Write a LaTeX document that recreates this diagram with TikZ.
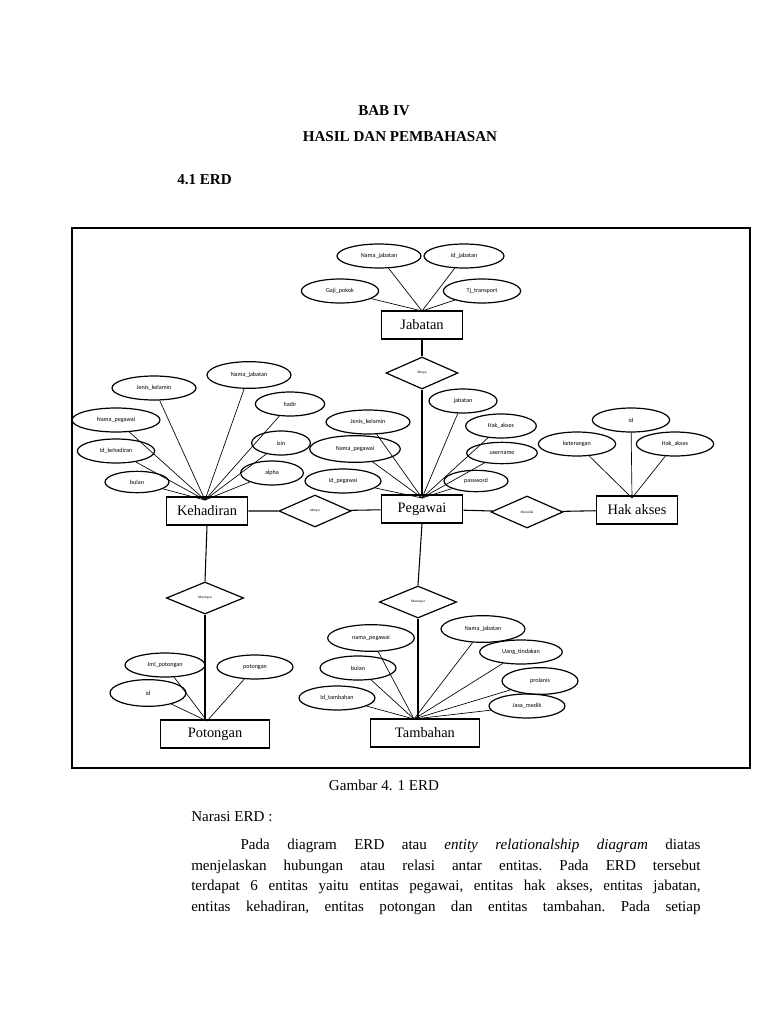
\documentclass[tikz,border=0pt]{standalone}
\usepackage{fontspec}
\setmainfont{Liberation Serif}
\newfontfamily\attrfont{Carlito}
\usetikzlibrary{shapes.geometric}
\begin{document}
\begin{tikzpicture}[x=0.75pt,y=-0.75pt,
  ent/.style={draw,line width=1pt,minimum width=#1,minimum height=21pt,inner sep=0pt,font=\fontsize{10.8}{12}\selectfont},
  ent/.default=61pt,
  rel/.style={draw,line width=0.9pt,diamond,minimum width=54pt,minimum height=24pt,inner sep=0pt,font=\fontsize{2.6}{3}\selectfont},
  attr/.style={draw,line width=0.9pt,ellipse,inner sep=0pt,minimum height=18pt,minimum width=#1,font=\attrfont\fontsize{4.6}{5}\selectfont},
  attr/.default=58pt,
  cn/.style={line width=0.5pt},
  rl/.style={line width=0.8pt}]
\useasboundingbox (0,0) rectangle (768,1024);
\fill[white] (0,0) rectangle (768,1024);
\node[font=\bfseries\fontsize{11.3}{13}\selectfont] (t1) at (384,111) {BAB IV};
\node[font=\bfseries\fontsize{11.3}{13}\selectfont] (t2) at (400,137) {HASIL DAN PEMBAHASAN};
\node[font=\bfseries\fontsize{11.3}{13}\selectfont,anchor=west,inner sep=0pt] (t3) at (177,180) {4.1 ERD};
\draw[line width=0.8pt] (72,228) rectangle (750,768);
% entities
\node[ent] (jab) at (422,325) {Jabatan};
\node[ent] (keh) at (207,511) {Kehadiran};
\node[ent] (peg) at (422,509) {Pegawai};
\node[ent] (hak) at (637,510) {Hak akses};
\node[ent=82pt] (pot) at (215,734) {Potongan};
\node[ent=82pt] (tam) at (425,733) {Tambahan};
% relations
\node[rel] (r1) at (422,373) {Mmpu};
\node[rel] (r2) at (315,511) {Mmpu};
\node[rel] (r3) at (527,512) {Memiliki};
\node[rel,minimum width=58pt] (r4) at (205,598) {Mendapat};
\node[rel,minimum width=58pt] (r5) at (418,602) {Mendapat};
\draw[rl] (jab) -- (r1) -- (peg);
\draw[rl] (keh) -- (r2) -- (peg);
\draw[rl] (peg) -- (r3) -- (hak);
\draw[rl] (keh.south) -- (r4.north);
\draw[rl] (r4.south) -- (r4.south |- pot.north);
\draw[rl] (peg.south) -- (r5.north);
\draw[rl] (r5.south) -- (r5.south |- tam.north);
% fan points
\coordinate (fj) at (422,311);
\coordinate (fk) at (205,500);
\coordinate (fp) at (422,498);
\coordinate (fh) at (632,498);
\coordinate (fo) at (207,721);
\coordinate (ft) at (414,719);
% Jabatan attributes
\node[attr=63pt] (a1) at (379,256) {Nama\_jabatan};
\node[attr=60pt] (a2) at (464,256) {Id\_jabatan};
\node[attr] (a3) at (340,291) {Gaji\_pokok};
\node[attr] (a4) at (482,291) {Tj\_transport};
\foreach \a in {a1,a2,a3,a4} \draw[cn] (\a) -- (fj);
% Kehadiran attributes
\node[attr=63pt,minimum height=20pt] (b1) at (249,375) {Nama\_jabatan};
\node[attr=63pt] (b2) at (154,388) {Jenis\_kelamin};
\node[attr=66pt] (b3) at (116,420) {Nama\_pegawai};
\node[attr=52pt] (b4) at (290,404) {hadir};
\node[attr] (b5) at (116,451) {Id\_kehadiran};
\node[attr=44pt] (b6) at (281,443) {izin};
\node[attr=48pt,minimum height=16pt] (b7) at (137,482) {bulan};
\node[attr=47pt] (b8) at (272,473) {alpha};
\foreach \a in {b1,b2,b3,b4,b5,b6,b7,b8} \draw[cn] (\a) -- (fk);
% Pegawai attributes
\node[attr=63pt] (c1) at (368,422) {Jenis\_kelamin};
\node[attr=68pt,minimum height=20pt] (c2) at (355,449) {Nama\_pegawai};
\node[attr=57pt] (c3) at (343,481) {Id\_pegawai};
\node[attr=51pt] (c4) at (463,401) {jabatan};
\node[attr=53pt] (c5) at (501,426) {Hak\_akses};
\node[attr=53pt,minimum height=16pt] (c6) at (502,453) {username};
\node[attr=48pt,minimum height=16pt] (c7) at (476,481) {password};
\foreach \a in {c1,c2,c3,c4,c5,c6,c7} \draw[cn] (\a) -- (fp);
% Hak akses attributes
\node[attr] (d1) at (631,420) {id};
\node[attr] (d2) at (577,444) {keterangan};
\node[attr] (d3) at (675,444) {Hak\_akses};
\foreach \a in {d1,d2,d3} \draw[cn] (\a) -- (fh);
% Potongan attributes
\node[attr=60pt] (e1) at (165,665) {Jml\_potongan};
\node[attr=57pt] (e2) at (255,667) {potongan};
\node[attr=57pt,minimum height=20pt] (e3) at (148,693) {id};
\foreach \a in {e1,e2,e3} \draw[cn] (\a) -- (fo);
% Tambahan attributes
\node[attr=65pt,minimum height=20pt] (f1) at (371,638) {nama\_pegawai};
\node[attr=63pt,minimum height=20pt] (f2) at (483,629) {Nama\_jabatan};
\node[attr=62pt] (f3) at (521,652) {Uang\_tindakan};
\node[attr=57pt] (f4) at (358,668) {bulan};
\node[attr=57pt,minimum height=20pt] (f5) at (540,681) {prolanis};
\node[attr=57pt] (f6) at (337,698) {Id\_tambahan};
\node[attr=57pt] (f7) at (527,706) {Jasa\_medik};
\foreach \a in {f1,f2,f3,f4,f5,f6,f7} \draw[cn] (\a) -- (ft);
% text below
\node[font=\fontsize{11.3}{13}\selectfont] (cap) at (384,785) {Gambar 4. 1 ERD};
\node[font=\fontsize{11.3}{13}\selectfont,anchor=west,inner sep=0pt] (nar) at (191,817) {Narasi ERD :};
\node[anchor=north west,inner sep=0pt,text width=382pt,align=justify,font=\fontsize{11.3}{15.4}\selectfont] (par) at (191,839)
{\frenchspacing\parfillskip=0pt\parindent=37pt\indent Pada diagram ERD atau \textit{entity relationalship diagram} diatas\linebreak
menjelaskan hubungan atau relasi antar entitas. Pada ERD tersebut\linebreak
terdapat 6 entitas yaitu entitas pegawai, entitas hak akses, entitas jabatan,\linebreak
entitas kehadiran, entitas potongan dan entitas tambahan. Pada setiap\par};
\end{tikzpicture}
\end{document}
